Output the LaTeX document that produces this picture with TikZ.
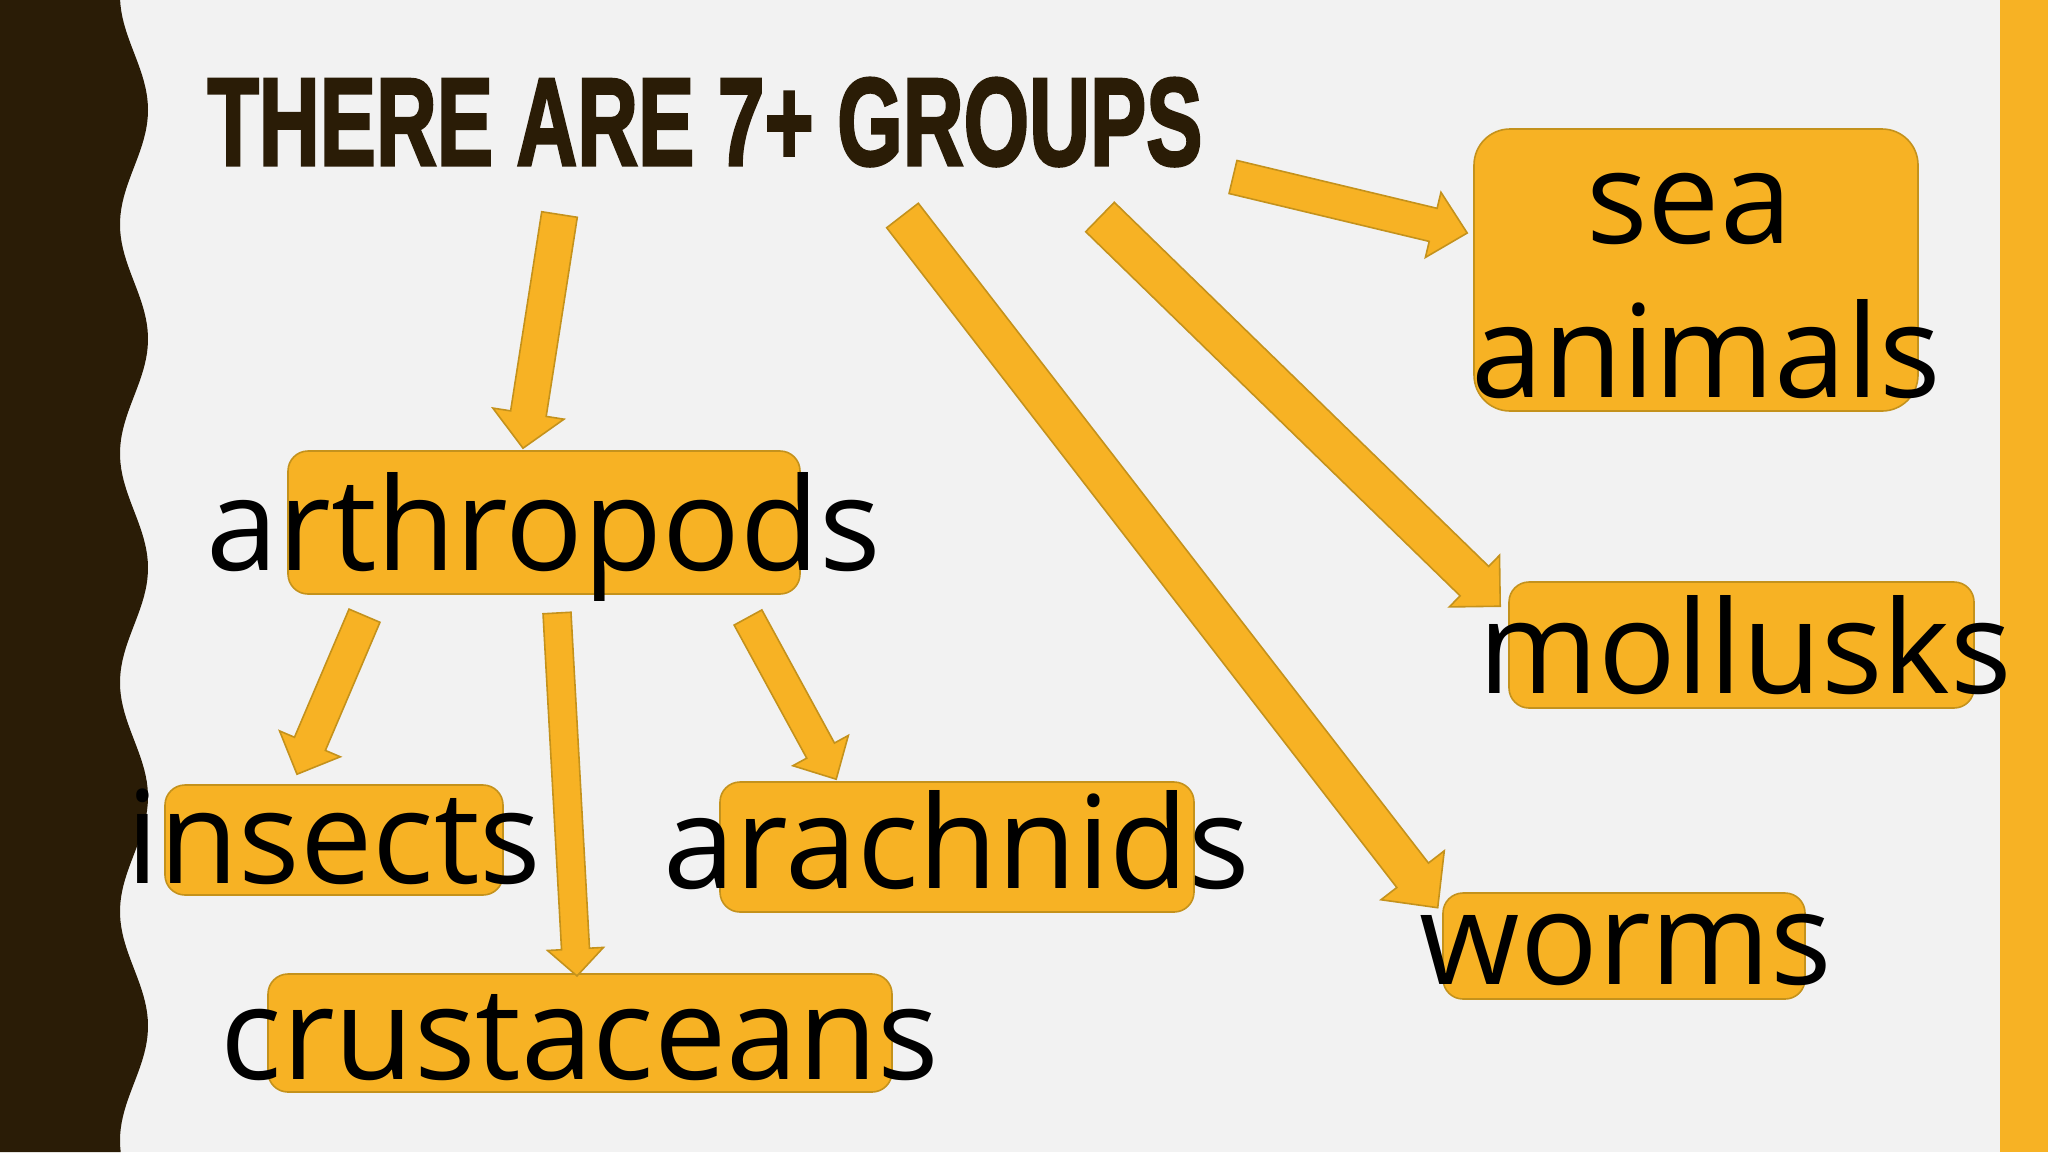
\documentclass[tikz,border=0pt]{standalone}
\usepackage{fontspec}
\setmainfont{Open Sans}
\newfontfamily\titlefont{Liberation Sans}[BoldFeatures={FakeBold=2.5}]
\usepackage{xcolor}
\usepackage{graphicx}
\usepackage{tikz}
\usetikzlibrary{calc, positioning}

\definecolor{bark}{RGB}{42,28,6}
\definecolor{gold}{RGB}{247,178,36}
\definecolor{goldedge}{RGB}{196,146,28}
\definecolor{paper}{RGB}{242,242,242}

% block arrow: start, tip, half body, half head, head length
\newcommand\grouparrow[5]{%
    \coordinate (ga-c) at ($(#2)!#5!(#1)$);
    \draw[garrow] ($(#1)!#3!90:(#2)$) -- ($(ga-c)!#3!-90:(#1)$) -- ($(ga-c)!#4!-90:(#1)$) -- (#2)
        -- ($(ga-c)!#4!90:(#1)$) -- ($(ga-c)!#3!90:(#1)$) -- ($(#1)!#3!-90:(#2)$) -- cycle;
}

\begin{document}
\begin{tikzpicture}[
        x=0.5pt, y=-0.5pt,
        box/.style={
            rectangle,
            draw=goldedge,
            line width=0.8pt,
            fill=gold,
            rounded corners=10pt,
            inner sep=0pt
        },
        word/.style={
            inner sep=0pt,
            font=\fontsize{64.5}{77}\selectfont,
            text=black,
            anchor=base
        },
        heading/.style={
            inner sep=0pt,
            text=bark,
            anchor=base west
        },
        garrow/.style={
            draw=goldedge,
            line width=0.8pt,
            fill=gold,
            line join=miter
        }
    ]
    % Background
    \fill[paper] (0,0) rectangle (2048,1152);
    \fill[bark] (0,0) -- plot[domain=0:1152, samples=200, variable=\t] ({134+14*sin((\t-52.75)/229*360)}, \t) -- (0,1152) -- cycle;
    \fill[gold] (2000,0) rectangle (2048,1152);

    % Nodes
    \node[heading] (title) at (207,165) {\resizebox{497.5pt}{43.5pt}{\titlefont\bfseries THERE ARE 7+ GROUPS}};

    \node[box, minimum width=256pt, minimum height=71.5pt] (arth) at (544,522.5) {};
    \node[box, minimum width=169pt, minimum height=55pt] (insects) at (334,840) {};
    \node[box, minimum width=237pt, minimum height=65pt] (arach) at (957,847) {};
    \node[box, minimum width=312pt, minimum height=59pt] (crust) at (580,1033) {};
    \node[box, rounded corners=18pt, minimum width=222pt, minimum height=141pt] (sea) at (1696,270) {};
    \node[box, minimum width=232.5pt, minimum height=63pt] (moll) at (1741.5,645) {};
    \node[box, minimum width=181pt, minimum height=53pt] (worms) at (1624,946) {};

    \node[word] (arthw) at ([yshift=12pt]arth.south) {arthropods};
    \node[word] (insectsw) at ([yshift=6pt]insects.south) {insects};
    \node[word] (arachw) at ([yshift=12pt]arach.south) {arachnids};
    \node[word] (crustw) at ([yshift=6.5pt]crust.south) {crustaceans};
    \node[word, align=center] (seaw) at ([xshift=5pt, yshift=7pt]sea.south) {sea\hspace*{0.26em}\\animals};
    \node[word] (mollw) at ([xshift=2pt, yshift=7.5pt]moll.south) {mollusks};
    \node[word] (wormsw) at ([xshift=1pt, yshift=7.5pt]worms.south) {worms};

    % Arrow ends
    \coordinate (s1) at (559.5,214.5);
    \coordinate (s2) at (1233,177);
    \coordinate (s3) at (1100,217);
    \coordinate (s4) at (902.5,215.5);
    \coordinate (s5) at (364.5,615.7);
    \coordinate (s6) at (557,613);
    \coordinate (s7) at (748,617.5);
    \coordinate (t1) at ($(arth.north)+(-21,-2)$);
    \coordinate (t2) at ($(sea.west)+(-6,-37)$);
    \coordinate (t3) at ($(moll.north west)+(-8,25)$);
    \coordinate (t4) at ($(worms.north west)+(-4.5,15.5)$);
    \coordinate (t5) at ($(insects.north)+(-37,-10)$);
    \coordinate (t6) at ($(crust.north)+(-3,2.7)$);
    \coordinate (t7) at ($(arach.north west)+(117,-2)$);

    % Arrows
    \grouparrow{s1}{t1}{9pt}{18pt}{17.5pt}
    \grouparrow{s2}{t2}{8.5pt}{16.75pt}{17.5pt}
    \grouparrow{s3}{t3}{10.25pt}{18pt}{18pt}
    \grouparrow{s4}{t4}{10pt}{20pt}{20.5pt}
    \grouparrow{s5}{t5}{8.4pt}{16.5pt}{16.5pt}
    \grouparrow{s6}{t6}{7pt}{14pt}{13.5pt}
    \grouparrow{s7}{t7}{7.9pt}{15.8pt}{16.3pt}
\end{tikzpicture}
\end{document}
